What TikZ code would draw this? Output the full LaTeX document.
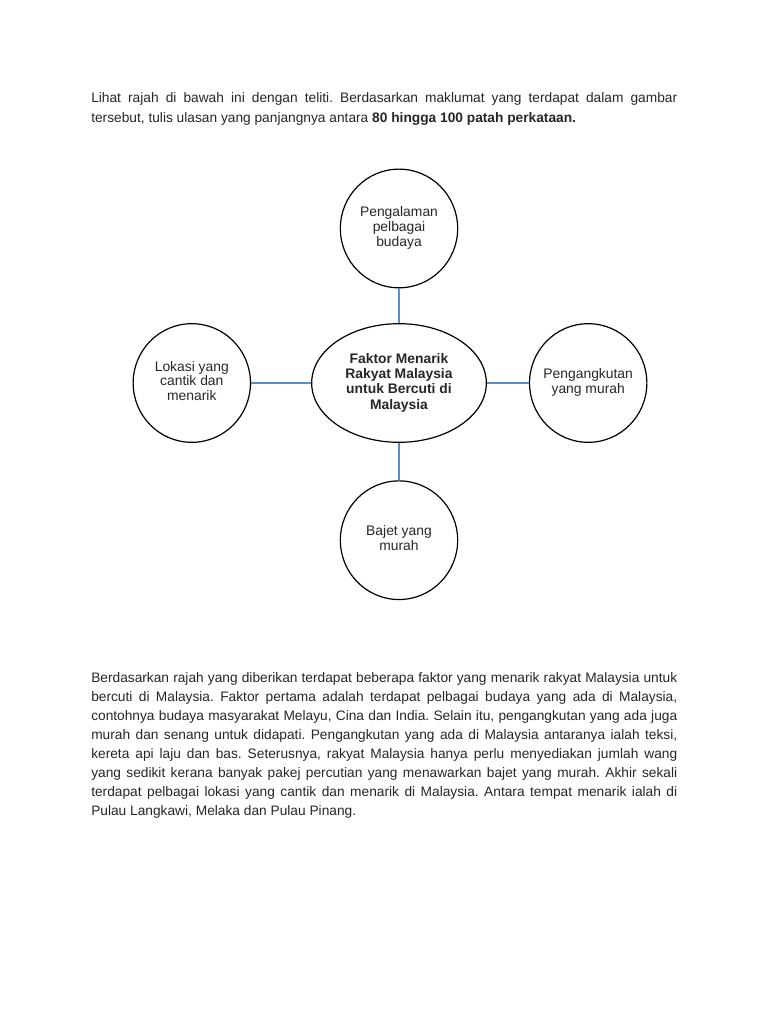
\documentclass[tikz,border=0pt]{standalone}
\usepackage{fontspec}
\setmainfont{Liberation Sans}
\usepackage{xcolor}
\usetikzlibrary{positioning,shapes.geometric}
\definecolor{garisbiru}{HTML}{5B8DC9}
\definecolor{teks}{HTML}{262626}
\newcommand{\isi}[1]{\makebox[0pt]{\begin{tabular}{@{}c@{}}#1\end{tabular}}}

\begin{document}
\begin{tikzpicture}[
  x=0.75pt,y=-0.75pt,
  faktor/.style={draw,ellipse,line width=0.9pt,minimum width=88pt,minimum height=89pt,inner sep=0pt,text=teks,font=\fontsize{10.4}{11}\selectfont},
  pusat/.style={faktor,minimum width=131pt,font=\bfseries\fontsize{10.4}{11.5}\selectfont},
  garis/.style={draw=garisbiru,line width=0.8pt},
  perenggan/.style={anchor=north west,inner sep=0pt,text width=439.5pt,align=justify,text=teks}
]
\useasboundingbox (0,0) rectangle (768,1024);

\node[perenggan,font=\fontsize{10.3}{15.5}\selectfont\frenchspacing] (soalan) at (91,92)
  {Lihat rajah di bawah ini dengan teliti. Berdasarkan maklumat yang terdapat dalam gambar\linebreak
   tersebut, tulis ulasan yang panjangnya antara \textbf{80 hingga 100 patah perkataan.}};

\node[pusat] (pusat) at (399,383) {\isi{Faktor Menarik\\Rakyat Malaysia\\untuk Bercuti di\\Malaysia}};
\node[faktor,above=26pt of pusat] (atas) {\isi{Pengalaman\\pelbagai\\budaya}};
\node[faktor,left=45pt of pusat] (kiri) {\isi{Lokasi yang\\cantik dan\\menarik}};
\node[faktor,right=31.5pt of pusat] (kanan) {\isi{Pengangkutan\\yang murah}};
\node[faktor,below=28pt of pusat] (bawah) {\isi{Bajet yang\\murah}};

\draw[garis] (atas) -- (pusat);
\draw[garis] (kiri) -- (pusat);
\draw[garis] (pusat) -- (kanan);
\draw[garis] (pusat) -- (bawah);

\node[perenggan,font=\fontsize{10.3}{14.3}\selectfont\frenchspacing] (jawapan) at (91,672)
  {Berdasarkan rajah yang diberikan terdapat beberapa faktor yang menarik rakyat Malaysia untuk\linebreak
   bercuti di Malaysia. Faktor pertama adalah terdapat pelbagai budaya yang ada di Malaysia,\linebreak
   contohnya budaya masyarakat Melayu, Cina dan India. Selain itu, pengangkutan yang ada juga\linebreak
   murah dan senang untuk didapati. Pengangkutan yang ada di Malaysia antaranya ialah teksi,\linebreak
   kereta api laju dan bas. Seterusnya, rakyat Malaysia hanya perlu menyediakan jumlah wang\linebreak
   yang sedikit kerana banyak pakej percutian yang menawarkan bajet yang murah. Akhir sekali\linebreak
   terdapat pelbagai lokasi yang cantik dan menarik di Malaysia. Antara tempat menarik ialah di\linebreak
   Pulau Langkawi, Melaka dan Pulau Pinang.};
\end{tikzpicture}
\end{document}
